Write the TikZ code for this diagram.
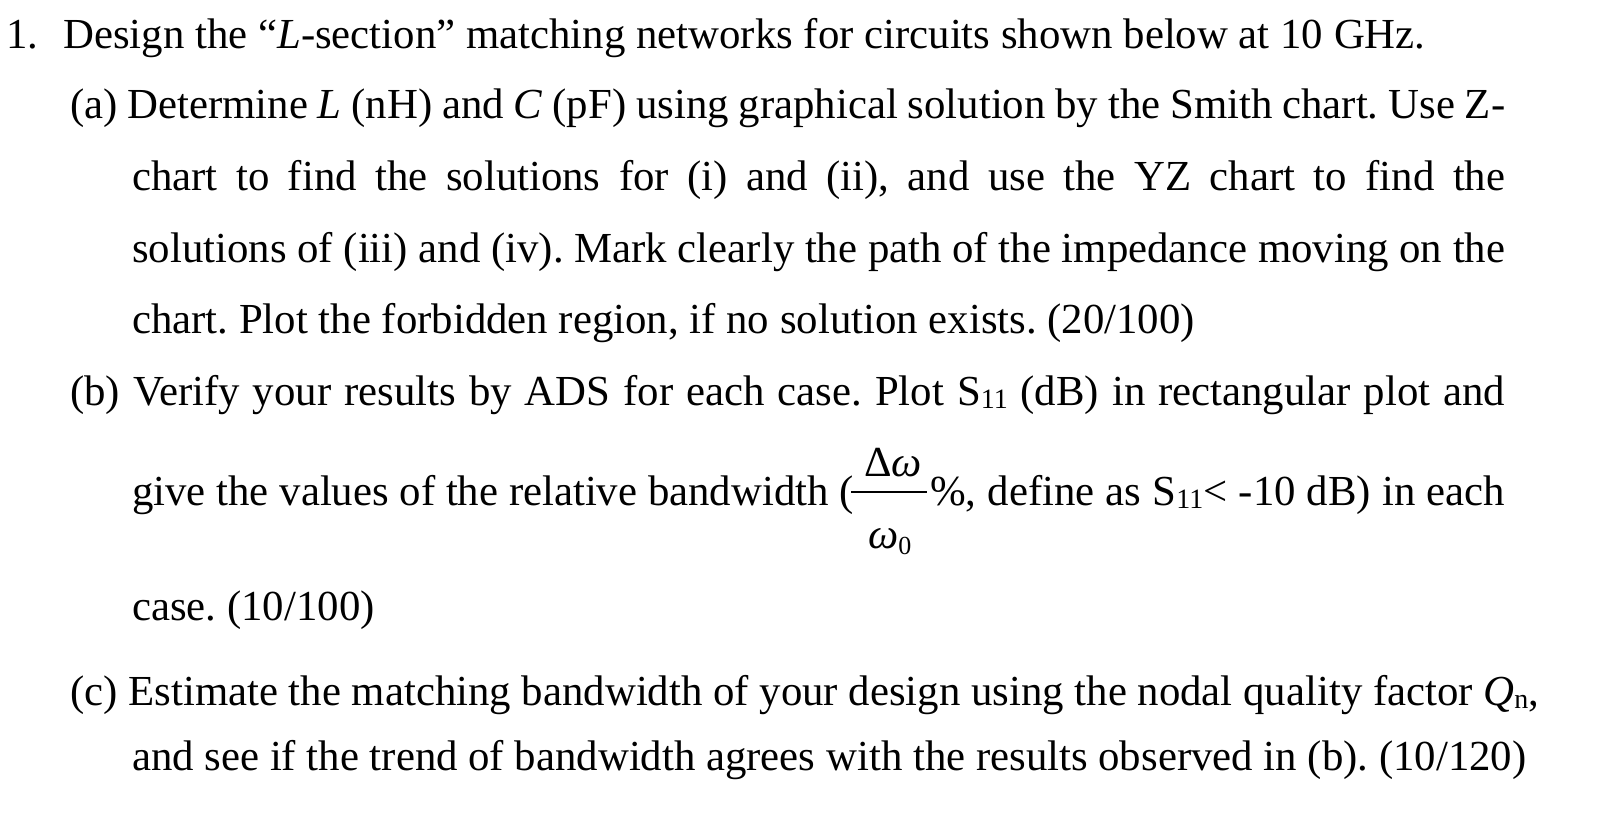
\documentclass[tikz,border=0pt]{standalone}
\usepackage{fontspec}
\setmainfont{Liberation Serif}
\newcommand{\sub}[1]{{\fontsize{28}{28}\selectfont\raisebox{-3pt}{#1}}}
\begin{document}
\frenchspacing
\begin{tikzpicture}[x=1pt,y=1pt,every node/.style={inner sep=0pt,anchor=base west,font=\fontsize{42.8}{46}\selectfont}]
\useasboundingbox (0,0) rectangle (1610,-817);
\node (l1) at (6,-48) {1.\hspace{25pt}Design the “\textit{L}-section” matching networks for circuits shown below at 10 GHz.};
\node (l2) at (70,-118) {\makebox[1435pt][s]{(a) Determine \textit{L} (nH) and \textit{C} (pF) using graphical solution by the Smith chart. Use Z-}};
\node (l3) at (132,-190) {\makebox[1373pt][s]{chart to find the solutions for (i) and (ii), and use the YZ chart to find the}};
\node (l4) at (132,-262) {\makebox[1373pt][s]{solutions of (iii) and (iv). Mark clearly the path of the impedance moving on the}};
\node (l5) at (132,-333) {chart. Plot the forbidden region, if no solution exists. (20/100)};
\node (l6) at (70,-405) {\makebox[1435pt][s]{(b) Verify your results by ADS for each case. Plot S\sub{11} (dB) in rectangular plot and}};
\node (l7) at (132,-505) {give the values of the relative bandwidth (};
\node (fn) at (864,-476) {Δ\textit{ω}};
\node (fd) at (868,-548) {\textit{ω}\raisebox{-6pt}{\fontsize{26}{26}\selectfont 0}};
\draw[line width=1.4pt] (851,-492) -- (927,-492);
\node (l7b) at (930,-505) {\makebox[575pt][s]{\%, define as S\sub{11}< -10 dB) in each}};
\node (l8) at (132,-620) {case. (10/100)};
\node (l9) at (70,-705) {(c) Estimate the matching bandwidth of your design using the nodal quality factor \textit{Q}\sub{n},};
\node (l10) at (132,-770) {and see if the trend of bandwidth agrees with the results observed in (b). (10/120)};
\end{tikzpicture}
\end{document}
